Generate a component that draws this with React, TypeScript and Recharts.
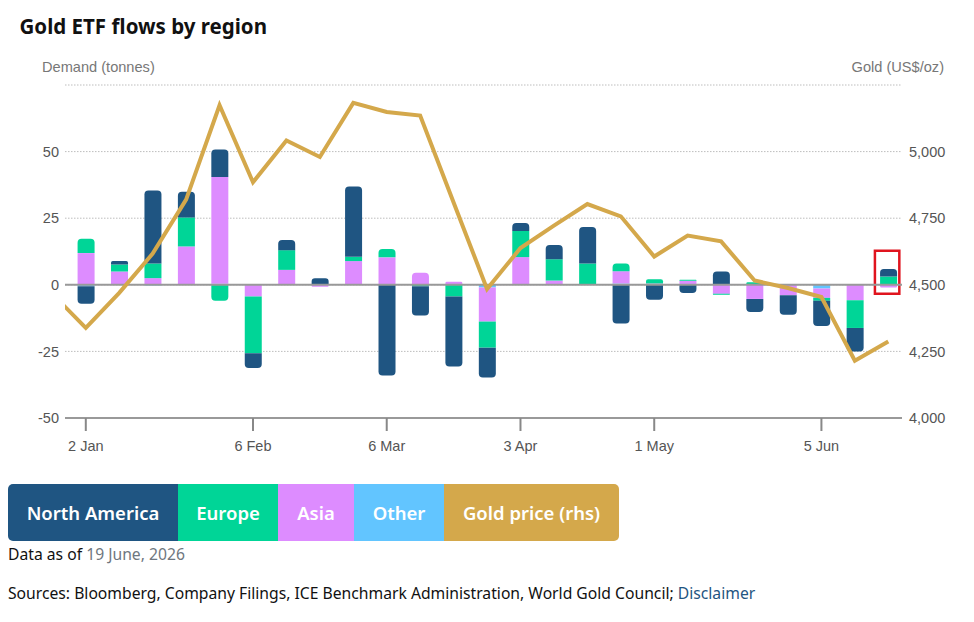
import {
  ComposedChart,
  Bar,
  Line,
  XAxis,
  YAxis,
  CartesianGrid,
  ReferenceLine,
  ReferenceArea,
  Rectangle
} from 'recharts'

const weeks = [
  '26 Dec', '2 Jan', '9 Jan', '16 Jan', '23 Jan', '30 Jan', '6 Feb', '13 Feb', '20 Feb', '27 Feb',
  '6 Mar', '13 Mar', '20 Mar', '27 Mar', '3 Apr', '10 Apr', '17 Apr', '24 Apr', '1 May', '8 May',
  '15 May', '22 May', '29 May', '5 Jun', '12 Jun', '19 Jun'
]

// first entry is the week before the visible window, only the gold line uses it
const northAmerica = [0, -6.6, 1.3, 27.4, 9.6, 10.3, -5.5, 3.8, 2.5, 26.4, -34, -11, -26.3, -11.2, 3, 5.3, 13.7, -14.5, -5.6, -3.1, 5, -4.9, -7.3, -9.5, -8.8, 2.8]
const europe = [0, 5.4, 2.6, 5.5, 10.9, -6, -21.3, 7.4, 0, 1.6, 3.1, -0.5, -4.4, -9.8, 9.8, 8, 7.7, 2.9, 1.6, 0.4, -0.3, 1, 0.3, -1.1, -10.4, 3.1]
const asia = [0, 11.9, 5, 2.5, 14.1, 40.1, -4.4, 5.6, -0.7, 8.9, 10.3, 4.5, 1.1, -12.8, 10.1, 1.6, 0, 4.6, 0.5, 1.5, -3.4, -5.3, -3.9, -3.5, -5.8, -1]
const other = [0, -0.5, 0, -0.3, 0.3, 0.4, 0, 0, 0, 0, 0, 0, 0, -1, 0.3, 0, 0.3, 0.5, 0, 0, 0, 0, 0, -1.4, 0, 0]
const goldPrice = [
  4466, 4338, 4470, 4617, 4820, 5174, 4885, 5042, 4980, 5183, 5149, 5135, 4809, 4484, 4638, 4722,
  4803, 4757, 4606, 4685, 4663, 4516, 4488, 4454, 4215, 4287
]

const weekTicks = [0, 5, 9, 13, 17, 22]
const demandTicks = [-50, -25, 0, 25, 50, 75]
const priceTicks = [4000, 4250, 4500, 4750, 5000, 5250]

const colors = {
  northAmerica: '#1F5582',
  europe: '#00D597',
  asia: '#DD8CFF',
  other: '#62C5FF',
  gold: '#D4A84B'
}

const legendItems = [
  { label: 'North America', color: colors.northAmerica, width: 170 },
  { label: 'Europe', color: colors.europe, width: 100 },
  { label: 'Asia', color: colors.asia, width: 76 },
  { label: 'Other', color: colors.other, width: 90 },
  { label: 'Gold price (rhs)', color: colors.gold, width: 175 }
]

// inner to outer, same order as the stack
const stackKeys = ['other', 'asia', 'europe', 'northAmerica']

const data = weeks.map((week, i) => ({
  index: i - 1,
  week,
  northAmerica: northAmerica[i],
  europe: europe[i],
  asia: asia[i],
  other: other[i],
  gold: goldPrice[i]
}))

// only the outermost piece of each stack gets round corners
const StackPiece = (props: any) => {
  const { payload, dataKey } = props
  const value = payload[dataKey]
  const later = stackKeys.slice(stackKeys.indexOf(dataKey) + 1)
  const outermost = !later.some((k) => payload[k] * value > 0)
  return <Rectangle {...props} x={props.x + 0.5} radius={outermost ? [4, 4, 0, 0] : 0} />
}

const labelFont = 'Arial, "Liberation Sans", sans-serif'
const noteFont = '"Noto Sans", sans-serif'

export default function App() {
  const tickStyle = { fill: '#555', fontSize: 14.5, fontFamily: labelFont }

  return (
    <div style={{ position: 'absolute', left: 0, top: 0, width: 974, height: 622, background: '#fff', overflow: 'hidden' }}>
      <div style={{ position: 'absolute', left: 19.5, top: 12, fontFamily: noteFont, fontWeight: 700, fontSize: 20.5, color: '#111' }}>
        Gold ETF flows by region
      </div>
      <div style={{ position: 'absolute', left: 42, top: 59, fontFamily: labelFont, fontSize: 14.6, color: '#777' }}>
        Demand (tonnes)
      </div>
      <div style={{ position: 'absolute', right: 30, top: 59, fontFamily: labelFont, fontSize: 14.6, color: '#777' }}>
        Gold (US$/oz)
      </div>

      <div style={{ position: 'absolute', left: 0, top: 0 }}>
        <ComposedChart
          width={974}
          height={460}
          data={data}
          stackOffset="sign"
          margin={{ top: 85, right: 0, bottom: 0, left: 0 }}
        >
          <CartesianGrid
            yAxisId="left"
            vertical={false}
            stroke="#BDBDBD"
            strokeDasharray="1.5 1.5"
          />
          <XAxis
            dataKey="index"
            type="number"
            domain={[-0.622, 24.41]}
            allowDataOverflow
            ticks={weekTicks}
            tickFormatter={(i: number) => weeks[i + 1]}
            tick={tickStyle}
            tickSize={13}
            tickMargin={10}
            height={42}
            axisLine={{ stroke: '#999', strokeWidth: 2 }}
            tickLine={{ stroke: '#888', strokeWidth: 2 }}
          />
          <YAxis
            yAxisId="left"
            width={65}
            domain={[-50, 75]}
            ticks={demandTicks}
            tickFormatter={(v: number) => (v === 75 ? '' : String(v))}
            tick={tickStyle}
            tickLine={false}
            axisLine={false}
            tickMargin={0}
            interval={0}
          />
          <YAxis
            yAxisId="right"
            orientation="right"
            width={72}
            domain={[4000, 5250]}
            ticks={priceTicks}
            tickFormatter={(v: number) => (v === 5250 ? '' : v.toLocaleString('en-US'))}
            tick={tickStyle}
            tickLine={false}
            axisLine={false}
            tickMargin={1}
            interval={0}
          />
          <ReferenceLine yAxisId="left" y={0} stroke="#999" strokeWidth={2} />
          <Bar yAxisId="left" dataKey="other" stackId="flows" barSize={17} fill={colors.other} shape={StackPiece} isAnimationActive={false} />
          <Bar yAxisId="left" dataKey="asia" stackId="flows" barSize={17} fill={colors.asia} shape={StackPiece} isAnimationActive={false} />
          <Bar yAxisId="left" dataKey="europe" stackId="flows" barSize={17} fill={colors.europe} shape={StackPiece} isAnimationActive={false} />
          <Bar yAxisId="left" dataKey="northAmerica" stackId="flows" barSize={17} fill={colors.northAmerica} shape={StackPiece} isAnimationActive={false} />
          <Line
            yAxisId="right"
            dataKey="gold"
            stroke={colors.gold}
            strokeWidth={4}
            dot={false}
            activeDot={false}
            strokeLinejoin="miter"
            isAnimationActive={false}
          />
          <ReferenceArea
            yAxisId="left"
            x1={23.6}
            x2={24.33}
            y1={-3.4}
            y2={12.8}
            fill="none"
            stroke="#E0141E"
            strokeWidth={2.5}
            fillOpacity={0}
          />
        </ComposedChart>
      </div>

      <div style={{ position: 'absolute', left: 8, top: 484, display: 'flex', height: 57, borderRadius: 5, overflow: 'hidden' }}>
        {legendItems.map((item) => (
          <div
            key={item.label}
            style={{
              width: item.width,
              background: item.color,
              color: '#fff',
              fontFamily: noteFont,
              fontWeight: 600,
              fontSize: 18.5,
              display: 'flex',
              alignItems: 'center',
              justifyContent: 'center'
            }}
          >
            {item.label}
          </div>
        ))}
      </div>

      <div style={{ position: 'absolute', left: 8, top: 543, fontFamily: noteFont, fontSize: 15.7, color: '#111' }}>
        Data as of <span style={{ color: '#6F7780' }}>19 June, 2026</span>
      </div>
      <div style={{ position: 'absolute', left: 8, top: 582, fontFamily: noteFont, fontSize: 15.7, color: '#111' }}>
        Sources: Bloomberg, Company Filings, ICE Benchmark Administration, World Gold Council;{' '}
        <span style={{ color: '#1F5582' }}>Disclaimer</span>
      </div>
    </div>
  )
}
